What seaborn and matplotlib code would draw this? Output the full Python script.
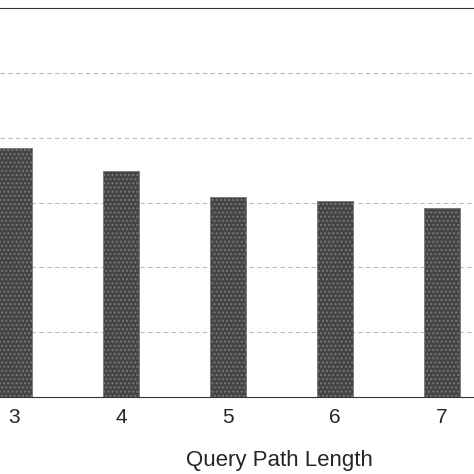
import matplotlib
matplotlib.use("Agg")
import matplotlib.pyplot as plt
import seaborn as sns
import pandas as pd

path_length = [3, 4, 5, 6, 7]
values = [3.85, 3.49, 3.09, 3.02, 2.92]

sns.set_style("white")
plt.rcParams['font.family'] = ['Liberation Sans', 'DejaVu Sans']

df = pd.DataFrame({"len": path_length, "val": values})

fig = plt.figure(figsize=(4.74, 4.74), dpi=100)
ax = fig.add_axes([0, 0.162, 1.0, 0.821])
sns.barplot(data=df, x="len", y="val", color="#444444", width=0.33,
            native_scale=True, ax=ax, saturation=1, edgecolor="#777777",
            linewidth=0.6, zorder=3)
for p in ax.patches:
    p.set_hatch("....")
ax.set_xlim(2.87, 7.30)
ax.set_ylim(0, 6)
ax.set_yticks([1, 2, 3, 4, 5])
ax.set_yticklabels([])
ax.tick_params(axis="y", length=0)
ax.yaxis.grid(True, linestyle=(0, (4, 3)), color="#bbbbbb", linewidth=0.8, zorder=0)
ax.set_xticks(path_length)
ax.tick_params(axis="x", labelsize=15, length=0, pad=8)
ax.set_xlabel("Query Path Length", fontsize=16)
ax.xaxis.set_label_coords(0.59, -0.135)
ax.set_ylabel("")
for s in ["top", "bottom"]:
    ax.spines[s].set_color("#333333")
    ax.spines[s].set_linewidth(0.8)
ax.spines["right"].set_visible(False)
ax.spines["left"].set_visible(False)

fig.savefig("out.png", dpi=100)
